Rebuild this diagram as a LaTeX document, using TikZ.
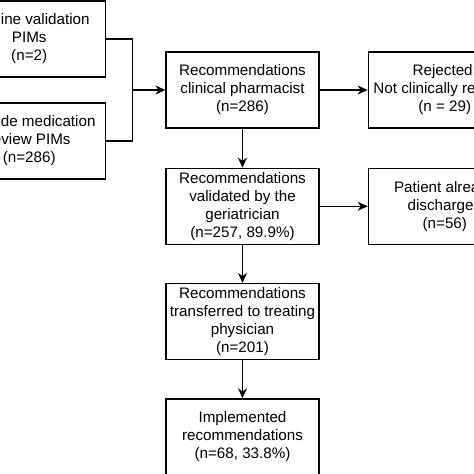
\documentclass[tikz,border=0pt]{standalone}
\usepackage{fontspec}
\setmainfont{Liberation Sans}
\usetikzlibrary{arrows.meta, positioning}

\begin{document}
\begin{tikzpicture}[
    every node/.style={
    align=center,
    minimum width=153pt,
    minimum height=76pt,
    inner sep=2pt,
    draw,
    line width=1.3pt,
    font=\fontsize{15.2}{18}\selectfont},
    line width=1.2pt,
    >={Stealth[length=10pt,width=9pt]}]
    \useasboundingbox (0,0) rectangle (474pt,-474pt);
    \clip (0,0) rectangle (474pt,-474pt);
    \node (pharm) at (242.5pt,-90pt) {Recommendations\\ clinical pharmacist\\ (n=286)};
    \node[left=59pt of pharm, yshift=51pt] (routine) {\phantom{Rout}ine validation\\ PIMs\\ (n=2)};
    \node[left=59pt of pharm, yshift=-51pt] (ward) {\hspace*{2.5em}de medication\\ \phantom{r}eview PIMs\\ (n=286)};
    \node[right=48pt of pharm] (reject) {Rejected:\\ Not clinically re\phantom{levant}\\ (n = 29)};
    \node[below=39pt of pharm] (geri) {Recommendations\\ validated by the\\ geriatrician\\ (n=257, 89.9\%)};
    \node[right=48pt of geri] (disch) {Patient alrea\phantom{dy}\\ discharge\phantom{d}\\ (n=56)};
    \node[below=38pt of geri] (transf) {Recommendations\\ transferred to treating\\ physician\\ (n=201)};
    \node[below=38pt of transf] (impl) {Implemented\\ recommendations\\ (n=68, 33.8\%)};
    \coordinate (merge) at ([xshift=-33pt]pharm.west);
    \draw (routine.east) -| (merge);
    \draw (ward.east) -| (merge);
    \draw[->] (merge) -- (pharm);
    \draw[->] (pharm) -- (reject);
    \draw[->] (pharm) -- (geri);
    \draw[->] (geri) -- (disch);
    \draw[->] (geri) -- (transf);
    \draw[->] (transf) -- (impl);
\end{tikzpicture}
\end{document}
